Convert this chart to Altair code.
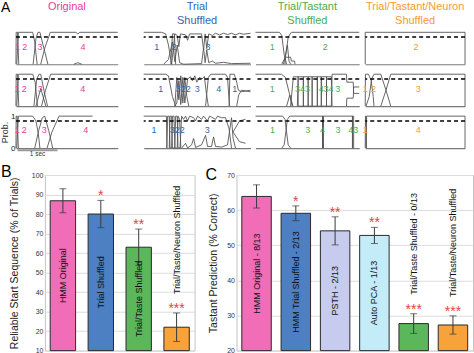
import altair as alt
import pandas as pd

FONT = "Liberation Sans"
CURVE_COLOR = "#555555"
THRESH = 0.85
LABEL_P = 0.55

# ---------------- Panel A: column settings ----------------
COL_TITLES = [["Original"], ["Trial", "Shuffled"], ["Trial/Tastant", "Shuffled"], ["Trial/Tastant/Neuron", "Shuffled"]]
COL_COLORS = ["#e83d97", "#2f66ad", "#4dac4d", "#f59b30"]
COL_SPAN_SEC = [2.55, 2.675, 2.6, 2.5]
COL_WIDTHS = [102, 107, 104, 100]
COL_GAPS = [15, 26, 5, 6]
SCALE_BAR = [0.04, 1.0]  # start (s), length (s)

# ---- Original ----
ORIG_R1 = [
    [[0, 0], [0.005, 1], [0.04, 1], [0.07, 0]],
    [[0.02, 0], [0.06, 1], [0.42, 1], [0.47, 0.7], [0.53, 0]],
    [[0.43, 0], [0.5, 0.8], [0.55, 1], [0.6, 1], [0.7, 0.5], [0.8, 0]],
    [[0.62, 0], [0.72, 0.5], [0.86, 1], [1.5, 1], [1.55, 0.95], [1.6, 1], [2.55, 1]],
    [[1.45, 0], [1.55, 0.05], [1.65, 0]],
]
ORIG_R1_LBL = [[0.04, "1"], [0.22, "2"], [0.6, "3"], [1.68, "4"]]
ORIG_R2 = [
    [[0, 0], [0.005, 1], [0.04, 1], [0.07, 0]],
    [[0.02, 0], [0.06, 1], [0.42, 1], [0.48, 0.75], [0.54, 0]],
    [[0.45, 0], [0.52, 0.85], [0.58, 1], [0.62, 1], [0.7, 0.5], [0.79, 0]],
    [[0.64, 0], [0.74, 0.5], [0.87, 1], [2.55, 1]],
    [[0.5, 0], [0.62, 0.55], [0.75, 0]],
]
ORIG_R2_LBL = [[0.03, "1"], [0.21, "2"], [0.61, "3"], [1.67, "4"]]
ORIG_R3 = [
    [[0, 0], [0.005, 1], [0.03, 1], [0.06, 0]],
    [[0.02, 0], [0.06, 1], [0.42, 1], [0.5, 0.85], [0.56, 0.45], [0.6, 0]],
    [[0.47, 0], [0.57, 0.55], [0.66, 0.95], [0.72, 1], [0.82, 0.55], [0.92, 0]],
    [[0.78, 0], [0.9, 0.5], [1.08, 1], [1.92, 1]],
]
ORIG_R3_LBL = [[0.03, "1"], [0.21, "2"], [0.71, "3"], [1.75, "4"]]

# ---- Trial shuffled ----
TRIAL_R1 = [
    [[0, 1], [0.45, 1], [0.55, 0.95], [0.62, 0.6], [0.7, 0]],
    [[0.68, 0], [0.72, 0.95], [0.77, 0.95], [0.8, 0]],
    [[0.7, 0], [0.78, 0.95], [0.84, 0.9], [0.88, 0.55], [0.92, 0.95], [1.05, 0.92], [1.1, 0.75], [1.15, 0.95],
     [1.45, 0.95], [1.5, 0.45], [1.54, 0.95], [1.58, 0.5], [1.63, 0.95], [1.72, 0.9], [1.8, 0.97], [1.9, 0.92],
     [2.0, 0.97], [2.1, 0.93], [2.2, 0.97], [2.3, 0.92], [2.4, 0.97], [2.5, 0.94], [2.675, 0.97]],
    [[0.5, 0], [0.62, 0.15], [0.72, 0.7], [0.78, 0.08], [0.84, 0.6], [0.9, 0.05], [1.0, 0], [1.45, 0.02],
     [1.5, 0.5], [1.54, 0.05], [1.58, 0.45], [1.63, 0.05], [1.72, 0.1], [1.8, 0.03], [2.0, 0.06], [2.2, 0.02],
     [2.675, 0.03]],
]
TRIAL_R1_LBL = [[0.33, "1"], [0.76, "2"], [1.61, "3"]]
TRIAL_R2 = [
    [[0, 1], [0.55, 1], [0.62, 0.95], [0.72, 0.3], [0.8, 0]],
    [[0.78, 0], [0.83, 0.9], [0.88, 0.2], [0.93, 0.95], [0.98, 0.1], [1.03, 0.9], [1.08, 0.3], [1.13, 0]],
    [[0.78, 0], [0.83, 0.1], [0.88, 0.8], [0.93, 0.05], [0.98, 0.9], [1.03, 0.1], [1.1, 0.85], [1.17, 0.92],
     [1.22, 0.8], [1.28, 0.95], [1.33, 0.75], [1.4, 0.9], [1.46, 0.85], [1.52, 0.93], [1.57, 0.4], [1.62, 0]],
    [[1.55, 0], [1.62, 0.9], [1.68, 1], [2.05, 1], [2.1, 0.9], [2.15, 0]],
    [[2.14, 0], [2.16, 1], [2.27, 1], [2.33, 0.75], [2.37, 0.5], [2.45, 0.45], [2.675, 0.5]],
    [[2.33, 0], [2.38, 0.35], [2.45, 0.5], [2.675, 0.45]],
]
TRIAL_R2_LBL = [[0.43, "1"], [0.99, "322"], [1.34, "3"], [1.88, "4"], [2.28, "1"]]
TRIAL_R3 = [
    [[0, 1], [0.57, 1], [0.58, 0]],
    [[0.58, 0], [0.6, 1], [0.64, 1], [0.66, 0], [0.7, 0], [0.72, 1], [0.76, 1], [0.78, 0], [0.84, 0],
     [0.86, 1], [0.9, 0.9], [0.93, 0]],
    [[0.64, 0], [0.66, 1], [0.7, 1], [0.72, 0], [0.78, 0], [0.8, 1], [0.84, 1], [0.86, 0], [0.91, 0],
     [0.95, 1], [1.0, 0.9], [1.05, 1], [1.1, 0.85], [1.15, 1], [1.25, 0.95], [1.3, 0.85], [1.35, 1],
     [1.45, 0.9], [1.5, 1], [1.6, 0.85], [1.65, 1], [1.8, 0.9], [1.85, 1], [1.95, 0.95], [2.05, 0.95],
     [2.14, 0.6], [2.2, 0]],
    [[0.95, 0], [1.05, 0.15], [1.1, 0], [1.2, 0.1], [1.25, 0.3], [1.3, 0.02], [1.45, 0.1], [1.55, 0.4],
     [1.6, 0.05], [1.7, 0.05], [1.75, 0.35], [1.8, 0.05], [1.95, 0.03], [2.1, 0.1], [2.2, 0.95], [2.24, 0.3],
     [2.3, 0]],
    [[2.24, 0.5], [2.4, 0.85], [2.55, 0.9]],
    [[2.24, 0.5], [2.4, 0.2], [2.55, 0.15]],
]
TRIAL_R3_LBL = [[0.26, "1"], [0.84, "322"], [1.59, "3"]]

# ---- Trial/Tastant shuffled ----
TASTE_R1 = [
    [[0, 1], [0.6, 1], [0.66, 0.9], [0.72, 0.3], [0.78, 0]],
    [[0.7, 0], [0.76, 0.3], [0.82, 0.85], [0.9, 1], [2.6, 1]],
    [[0.74, 0], [0.75, 0.22], [0.88, 0.22], [0.9, 0.1], [0.98, 0.1], [0.99, 0]],
    [[0.66, 0], [0.74, 0.2], [0.8, 0.6], [0.84, 0.1], [0.88, 0]],
]
TASTE_R1_LBL = [[0.42, "1"], [1.75, "2"]]
TASTE_R2 = [
    [[0, 1], [0.65, 1], [0.75, 0.9], [0.85, 0.4], [0.92, 0]],
    [[0.78, 0], [0.86, 0.35], [0.94, 0]],
    [[0.88, 0], [0.95, 0.92], [1.07, 0.92], [1.07, 0], [1.2, 0], [1.2, 0.92], [1.32, 0.92], [1.32, 0],
     [1.42, 0], [1.42, 0.92], [1.55, 0.92], [1.55, 0], [1.65, 0], [1.65, 0.92], [1.78, 0.92], [1.78, 0],
     [1.9, 0], [1.92, 1], [2.28, 1], [2.29, 0.75], [2.45, 0.75], [2.46, 0.4], [2.6, 0.4]],
    [[1.05, 0], [1.07, 0.92], [1.2, 0.92], [1.2, 0], [1.32, 0], [1.32, 0.92], [1.42, 0.92], [1.42, 0],
     [1.55, 0], [1.55, 0.92], [1.65, 0.92], [1.65, 0], [1.78, 0], [1.78, 0.92], [1.9, 0.92], [1.92, 0]],
    [[2.28, 0], [2.29, 0.25], [2.45, 0.25], [2.46, 0.6], [2.6, 0.6]],
]
TASTE_R2_LBL = [[0.42, "1"], [1.18, "343"], [1.77, "434"], [2.06, "3"]]
TASTE_R3 = [
    [[0, 1], [0.68, 1], [0.74, 0.9], [0.78, 0.5], [0.82, 0.1], [0.88, 0]],
    [[0.66, 0], [0.72, 0.1], [0.76, 0.5], [0.8, 0.9], [0.86, 1], [1.68, 1], [1.68, 0], [1.7, 0], [1.7, 1],
     [2.43, 1], [2.43, 0]],
    [[1.68, 0], [1.68, 1], [1.7, 1], [1.7, 0]],
    [[2.43, 0], [2.43, 1], [2.46, 1], [2.46, 0]],
]
TASTE_R3_LBL = [[0.43, "1"], [1.31, "3"], [1.68, "4"], [2.07, "3"], [2.45, "43"]]

# ---- Trial/Tastant/Neuron shuffled ----
NEURON_R1 = [
    [[0, 0], [0, 1], [2.5, 1], [2.5, 0]],
]
NEURON_R1_LBL = [[1.27, "2"]]
NEURON_R2 = [
    [[0, 0], [0.005, 1], [0.08, 1], [0.15, 0.8], [0.2, 0.3], [0.22, 0]],
    [[0.02, 0], [0.1, 0.3], [0.16, 0.85], [0.22, 1], [0.39, 1], [0.52, 0.5], [0.64, 0]],
    [[0.39, 0], [0.52, 0.5], [0.64, 1], [2.5, 1], [2.5, 0]],
]
NEURON_R2_LBL = [[0.0, "1"], [0.21, "2"], [1.33, "3"]]
NEURON_R3 = [
    [[0, 0], [0.005, 1], [0.02, 1], [0.03, 0]],
    [[0.02, 0], [0.035, 1], [2.5, 1], [2.5, 0]],
]
NEURON_R3_LBL = [[0.0, "1"], [1.33, "4"]]

GRID_CURVES = [
    [ORIG_R1, TRIAL_R1, TASTE_R1, NEURON_R1],
    [ORIG_R2, TRIAL_R2, TASTE_R2, NEURON_R2],
    [ORIG_R3, TRIAL_R3, TASTE_R3, NEURON_R3],
]
GRID_LABELS = [
    [ORIG_R1_LBL, TRIAL_R1_LBL, TASTE_R1_LBL, NEURON_R1_LBL],
    [ORIG_R2_LBL, TRIAL_R2_LBL, TASTE_R2_LBL, NEURON_R2_LBL],
    [ORIG_R3_LBL, TRIAL_R3_LBL, TASTE_R3_LBL, NEURON_R3_LBL],
]

# ---------------- Panel B ----------------
PINK, BLUE, GREEN, ORANGE = "#f26db7", "#4d7fc3", "#5cb75c", "#f7a23b"
LAVENDER, CYAN = "#c7cbee", "#c4ebf8"
RED = "#e8413c"

B_NAMES = ["HMM Original", "Trial Shuffled", "Trial/Taste Shuffled", "Trial/Taste/Neuron Shuffled"]
B_VALUES = [86.8, 80.0, 63.0, 22.0]
B_ERRORS = [6.2, 7.0, 9.3, 7.3]
B_STARS = ["", "*", "**", "***"]
B_COLORS = [PINK, BLUE, GREEN, ORANGE]
B_INSIDE = [True, True, True, False]

# ---------------- Panel C ----------------
C_NAMES = ["HMM Original - 8/13", "HMM Trial Shuffled - 2/13", "PSTH - 2/13", "Auto PCA - 1/13",
           "Trial/Taste Shuffled - 0/13", "Trial/Taste/Neuron Shuffled"]
C_VALUES = [63.9, 59.1, 54.1, 52.8, 27.7, 27.3]
C_ERRORS = [3.3, 2.1, 4.0, 2.3, 2.8, 2.6]
C_STARS = ["", "*", "**", "**", "***", "***"]
C_COLORS = [PINK, BLUE, LAVENDER, CYAN, GREEN, ORANGE]
C_INSIDE = [True, True, True, True, False, False]

ROW_H = 32
ROW_GAP = 10
MID_GAP = 6
BAR_H = 176


def spacer(w, h, title=None):
    c = alt.Chart(pd.DataFrame({"z": [0]})).mark_point(opacity=0).properties(width=w, height=h)
    if title is not None:
        c = c.properties(title=title)
    return c


def curves_df(curves):
    rows = []
    for k, pts in enumerate(curves):
        for i, (t, p) in enumerate(pts):
            rows.append({"curve": k, "i": i, "t": t, "p": p})
    return pd.DataFrame(rows)


def state_panel(r, c):
    span = COL_SPAN_SEC[c]
    xs = alt.Scale(domain=[0, span], nice=False, zero=False)
    ys = alt.Scale(domain=[0, 1], nice=False, zero=False)
    xax = alt.Axis(domain=True, domainColor="#7a7a7a", domainWidth=1.2, labels=False, ticks=False,
                   grid=False, title=None)
    if r == 2 and c == 0:
        yax = alt.Axis(values=[0, 1], format="d", domain=False, ticks=False, grid=False, labelFontSize=8,
                       labelPadding=1, labelColor="#222", title="Prob.", titleFontSize=9,
                       titleFontWeight="normal", titlePadding=1, titleColor="#222")
    else:
        yax = None

    def X(f):
        return alt.X(f, type="quantitative", scale=xs, axis=xax)

    def Y(f):
        return alt.Y(f, type="quantitative", scale=ys, axis=yax)

    lines = alt.Chart(curves_df(GRID_CURVES[r][c])).mark_line(
        color=CURVE_COLOR, strokeWidth=0.9).encode(
        x=X("t"), y=Y("p"), detail="curve:N", order="i:Q")
    thr = alt.Chart(pd.DataFrame({"thr": [THRESH]})).mark_rule(
        color="black", strokeDash=[4, 3], strokeWidth=1.5).encode(y=Y("thr"))
    lbl_df = pd.DataFrame(GRID_LABELS[r][c], columns=["t", "txt"])
    lbl_df["p"] = LABEL_P
    lbl = alt.Chart(lbl_df).mark_text(color=COL_COLORS[c], fontSize=9, font=FONT).encode(
        x=X("t"), y=Y("p"), text="txt:N")
    layers = [lines, thr, lbl]
    if r == 2 and c == 0:
        sb = pd.DataFrame({"t0": [SCALE_BAR[0]], "t1": [SCALE_BAR[0] + SCALE_BAR[1]],
                           "tm": [SCALE_BAR[0] + SCALE_BAR[1] / 2], "p": [-0.07], "pt": [-0.2]})
        layers.append(alt.Chart(sb).mark_rule(color="#9a9a9a", strokeWidth=2).encode(
            x=X("t0"), x2="t1", y=Y("p")))
        layers.append(alt.Chart(sb).mark_text(text="1 sec", fontSize=6.5, color="#333").encode(
            x=X("tm"), y=Y("pt")))
    ch = alt.layer(*layers).properties(width=COL_WIDTHS[c], height=ROW_H)
    if r == 0:
        two = len(COL_TITLES[c]) > 1
        ch = ch.properties(title=alt.TitleParams(
            text=COL_TITLES[c], color=COL_COLORS[c], fontSize=11, font=FONT, fontWeight="normal",
            anchor="middle", frame="group", baseline="bottom", lineHeight=13.4,
            offset=0 if two else 7.5, dy=6 if two else 0))
    return ch


def grid_cells():
    cells = []
    for r in range(3):
        for c in range(4):
            if c == 0 and r == 0:
                cells.append(spacer(COL_GAPS[c], ROW_H, alt.TitleParams(
                    text="A", fontSize=14, font=FONT, fontWeight="normal", anchor="start",
                    frame="group", baseline="top", offset=17)))
            else:
                cells.append(spacer(COL_GAPS[c], ROW_H))
            cells.append(state_panel(r, c))
    return cells


def bar_panel(names, values, errors, stars, colors, inside, ymin, ymax, width, ytitle, tpad,
              pad_inner, pad_outer):
    df = pd.DataFrame(dict(name=names, value=values, err=errors, star=stars, col=colors, inside=inside))
    df["lo"] = df["value"] - df["err"]
    df["hi"] = df["value"] + df["err"]
    df["mid"] = (df["value"] + ymin) / 2
    base = alt.Chart(df)
    X = alt.X("name:N", sort=names, axis=None,
              scale=alt.Scale(paddingInner=pad_inner, paddingOuter=pad_outer))
    ys = alt.Scale(domain=[ymin, ymax], nice=False, zero=False)
    yax = alt.Axis(values=list(range(ymin, ymax + 1, 10)), domain=False, ticks=False, grid=True,
                   gridColor="#dcdcdc", gridWidth=1, labelFontSize=7, labelColor="#333",
                   labelPadding=2, title=ytitle, titleFontSize=10.5, titleFontWeight="normal",
                   titleColor="#222", titleFont=FONT, titlePadding=tpad)

    def Y(f):
        return alt.Y(f, type="quantitative", scale=ys, axis=yax)

    bars = base.mark_bar(stroke="#2a2a2a", strokeWidth=1).encode(
        x=X, y=Y("value"), y2=alt.datum(ymin), color=alt.Color("col:N", scale=None))
    err = base.mark_rule(color="#3a3a3a", strokeWidth=1).encode(x=X, y=Y("lo"), y2="hi")
    cap_lo = base.mark_tick(color="#3a3a3a", thickness=1, size=7).encode(x=X, y=Y("lo"))
    cap_hi = base.mark_tick(color="#3a3a3a", thickness=1, size=7).encode(x=X, y=Y("hi"))
    st = base.mark_text(color=RED, fontSize=14, baseline="alphabetic", font=FONT).encode(
        x=X, y=Y("hi"), text="star:N")
    lab_in = base.transform_filter("datum.inside").mark_text(
        angle=270, fontSize=9, color="#111", font=FONT).encode(x=X, y=Y("mid"), text="name:N")
    lab_out = base.transform_filter("!datum.inside").mark_text(
        angle=270, fontSize=9, color="#111", align="left", baseline="middle", dx=19, font=FONT).encode(
        x=X, y=Y("hi"), text="name:N")
    return alt.layer(bars, err, cap_lo, cap_hi, st, lab_in, lab_out).properties(
        width=width, height=BAR_H, view=alt.ViewBackground(stroke="#c4c4c4", strokeWidth=1))


panel_b = bar_panel(B_NAMES, B_VALUES, B_ERRORS, B_STARS, B_COLORS, B_INSIDE, 10, 100, 150,
                    "Reliable Start Sequence (% of Trials)", 12, 0.33, 0.14)
panel_c = bar_panel(C_NAMES, C_VALUES, C_ERRORS, C_STARS, C_COLORS, C_INSIDE, 20, 70, 237,
                    "Tastant Prediction (% Correct)", 8, 0.25, 0.135)

grid_a = alt.concat(*grid_cells(), columns=8, spacing={"row": ROW_GAP, "column": 0}, bounds="flush")

row_bc = alt.hconcat(
    spacer(44, BAR_H, alt.TitleParams(text="B", fontSize=16, font=FONT, fontWeight="normal",
                                      anchor="start", frame="group", baseline="alphabetic",
                                      offset=0, dy=18)),
    panel_b,
    spacer(42, BAR_H, alt.TitleParams(text="C", fontSize=16, font=FONT, fontWeight="normal",
                                      anchor="start", frame="group", baseline="alphabetic",
                                      offset=0, dy=21, dx=11)),
    panel_c,
    spacing=0, bounds="flush")

chart = alt.vconcat(
    grid_a,
    row_bc,
    spacing=MID_GAP,
).properties(padding=0).configure(font=FONT).configure_view(strokeWidth=0)

chart.save("out.html", embed_options={"renderer": "svg", "actions": False})
